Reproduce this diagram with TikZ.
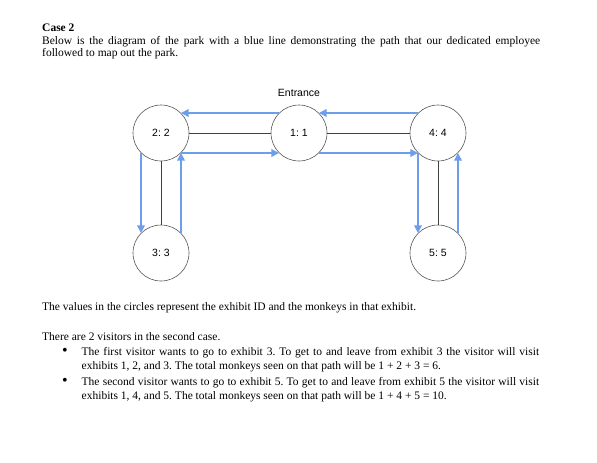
\documentclass[tikz,border=0pt]{standalone}
\usepackage{fontspec}
\setmainfont{Liberation Serif}
\newfontfamily\sansfont{Liberation Sans}
\usetikzlibrary{arrows.meta}
\definecolor{routeblue}{RGB}{109,158,235}
\definecolor{rimgray}{RGB}{85,85,85}
\frenchspacing
\begin{document}
\begin{tikzpicture}[x=1pt,y=-1pt,
    exhibit/.style={circle, draw=rimgray, line width=0.6pt, minimum size=56pt, inner sep=0pt,
        font=\sansfont\fontsize{10.5}{12}\selectfont},
    walkway/.style={draw=black!75, line width=0.6pt},
    route/.style={draw=routeblue, line width=1.6pt, -{Triangle[length=7.5pt,width=7.5pt]}},
    prose/.style={inner sep=0pt, font=\fontsize{11.5}{12.5}\selectfont}]
            % Define dimensions
            \def\leftx{161}
            \def\midx{299}
            \def\rightx{438}
            \def\topy{133}
            \def\bottomy{253}
            \useasboundingbox (0,0) rectangle (597,463);
            % Heading and intro
            \node[prose, anchor=base west, font=\fontsize{11.5}{12.5}\selectfont\bfseries] (title) at (42,31) {Case 2};
            \node[prose, anchor=base west, text width=498pt, align=justify] (intro) at (42,44.3)
                {Below is the diagram of the park with a blue line demonstrating the path that our dedicated employee\linebreak followed to map out the park.};
            % Exhibits
            \node[exhibit] (e1) at (\midx,\topy) {1: 1};
            \node[exhibit] (e2) at (\leftx,\topy) {2: 2};
            \node[exhibit] (e4) at (\rightx,\topy) {4: 4};
            \node[exhibit] (e3) at (\leftx,\bottomy) {3: 3};
            \node[exhibit] (e5) at (\rightx,\bottomy) {5: 5};
            \node[font=\sansfont\fontsize{10.5}{12}\selectfont] (entrance) at (\midx,93) {Entrance};
            % Walkways between exhibits
            \foreach \a/\b in {e2/e1, e1/e4, e2/e3, e4/e5}
                \draw[walkway] (\a) -- (\b);
            % Blue path of the employee
            \foreach \from/\to in {e1.135/e2.45, e4.135/e1.45, e2.-45/e1.-135, e1.-45/e4.-135,
                                   e2.-135/e3.135, e3.45/e2.-45, e4.-135/e5.135, e5.45/e4.-45}
                \draw[route] (\from) -- (\to);
            % Explanation below
            \node[prose, anchor=base west] (legend) at (42,310)
                {The values in the circles represent the exhibit ID and the monkeys in that exhibit.};
            \node[prose, anchor=base west] (visitors) at (42,340) {There are 2 visitors in the second case.};
            \node[prose, anchor=base west, text width=457.5pt, align=justify, font=\fontsize{11.5}{14}\selectfont] (first) at (81.5,355)
                {The first visitor wants to go to exhibit 3. To get to and leave from exhibit 3 the visitor will visit\linebreak exhibits 1, 2, and 3. The total monkeys seen on that path will be 1 + 2 + 3 = 6.};
            \node[prose, anchor=base west, text width=457.5pt, align=justify, font=\fontsize{11.5}{14}\selectfont] (second) at (81.5,385)
                {The second visitor wants to go to exhibit 5. To get to and leave from exhibit 5 the visitor will visit\linebreak exhibits 1, 4, and 5. The total monkeys seen on that path will be 1 + 4 + 5 = 10.};
            \foreach \item/\y in {first/355, second/385}
                \node[prose, anchor=base, font=\fontsize{16}{16}\selectfont] (bullet-\item) at (65,\y) {\textbullet};
        \end{tikzpicture}
\end{document}
